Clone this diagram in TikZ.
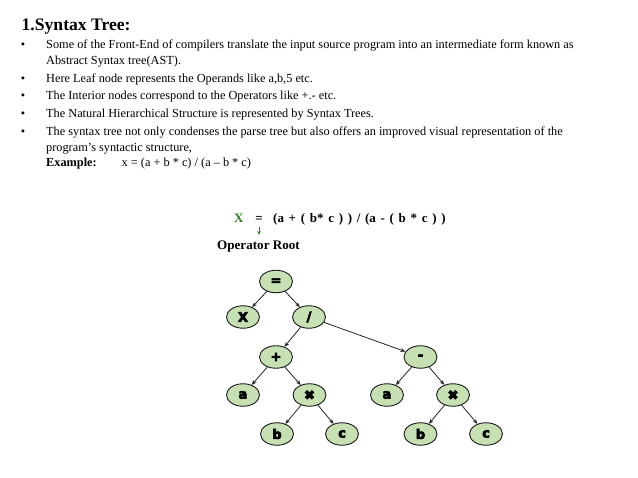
\documentclass[tikz,border=0pt]{standalone}
\usepackage{fontspec}
\setmainfont{Liberation Serif}
\newfontfamily\nodefont{DejaVu Sans}
\usetikzlibrary{arrows.meta,shapes.geometric}
\definecolor{nodegreen}{RGB}{198,224,180}
\definecolor{darkgreen}{RGB}{56,120,40}
\newcommand{\heavytxt}[1]{\special{pdf:literal direct 2 Tr 0.7 w}#1\special{pdf:literal direct 0 Tr}}
\tikzset{
  tnode/.style={ellipse,draw=black!90,line width=0.9pt,fill=nodegreen,minimum width=33pt,minimum height=22.5pt,inner sep=0pt,font=\nodefont\bfseries\fontsize{13}{13}\selectfont},
  tedge/.style={draw=black!85,line width=0.8pt,-{Stealth[length=5pt,width=4pt]}},
  body/.style={anchor=base west,inner sep=0pt,font=\fontsize{12.3}{14}\selectfont},
  bul/.style={anchor=base,inner sep=0pt,font=\fontsize{12.3}{14}\selectfont},
  hdr/.style={inner sep=0pt,font=\bfseries\fontsize{13}{14}\selectfont},
}
\begin{document}
\begin{tikzpicture}[x=1pt,y=-1pt]
\useasboundingbox[fill=white] (0,0) rectangle (638,478);
\node[anchor=base west,inner sep=0pt,font=\bfseries\fontsize{17.6}{20}\selectfont] (title) at (21.5,30.7) {1.Syntax Tree:};
\foreach \y/\n in {48.5/b1,82.7/b2,100/b3,117.7/b4,136/b5}{
  \node[bul] (\n) at (23,\y) {•};
}
\node[body] (l1) at (46,48.5) {Some of the Front-End of compilers translate the input source program into an intermediate form known as};
\node[body] (l2) at (46,65) {Abstract Syntax tree(AST).};
\node[body] (l3) at (46,82.7) {Here Leaf node represents the Operands like a,b,5 etc.};
\node[body] (l4) at (46,100) {The Interior nodes correspond to the Operators like +.- etc.};
\node[body] (l5) at (46,117.7) {The Natural Hierarchical Structure is represented by Syntax Trees.};
\node[body] (l6) at (46,136) {The syntax tree not only condenses the parse tree but also offers an improved visual representation of the};
\node[body] (l7) at (46,152) {program’s syntactic structure,};
\node[body,font=\bfseries\fontsize{12.3}{14}\selectfont] (ex) at (46,167) {Example:};
\node[body] (exf) at (121.5,167) {x = (a + b * c) / (a – b * c)};
% expression header
\node[hdr,anchor=base west,text=darkgreen] (hx) at (234,223) {X};
\node[hdr,anchor=base] (heq) at (259,223) {=};
\node[hdr,anchor=base west] (hexp) at (273,223) {\spaceskip=4.7pt (a + ( b* c ) ) / (a - ( b * c ) )};
\coordinate (ha) at (259,227);
\coordinate (hb) at (259,235);
\draw[darkgreen,line width=0.9pt,-{Stealth[length=4pt,width=3.5pt]}] (ha) -- (hb);
\node[anchor=base west,inner sep=0pt,font=\bfseries\fontsize{13.1}{14}\selectfont] (oproot) at (217,250) {Operator Root};
% tree
\node[tnode] (eq) at (276,281.5) {\heavytxt{=}};
\node[tnode] (x) at (243,317) {\heavytxt{X}};
\node[tnode] (div) at (309,317) {\heavytxt{/}};
\node[tnode] (plus) at (276,357) {\heavytxt{+}};
\node[tnode] (minus) at (420.5,357) {\heavytxt{-}};
\node[tnode] (a1) at (243,395) {\heavytxt{a}};
\node[tnode] (m1) at (309.5,395) {\heavytxt{✖}};
\node[tnode] (a2) at (387,395) {\heavytxt{a}};
\node[tnode] (m2) at (453,395) {\heavytxt{✖}};
\node[tnode] (b1n) at (277,434) {\heavytxt{b}};
\node[tnode] (c1n) at (342,434) {\heavytxt{c}};
\node[tnode] (b2n) at (420.5,434) {\heavytxt{b}};
\node[tnode] (c2n) at (486,434) {\heavytxt{c}};
\path[tedge] (eq) -- (x);
\path[tedge] (eq) -- (div);
\path[tedge] (div) -- (plus);
\path[tedge] (div) -- (minus);
\path[tedge] (plus) -- (a1);
\path[tedge] (plus) -- (m1);
\path[tedge] (minus) -- (a2);
\path[tedge] (minus) -- (m2);
\path[tedge] (m1) -- (b1n);
\path[tedge] (m1) -- (c1n);
\path[tedge] (m2) -- (b2n);
\path[tedge] (m2) -- (c2n);
\end{tikzpicture}
\end{document}
